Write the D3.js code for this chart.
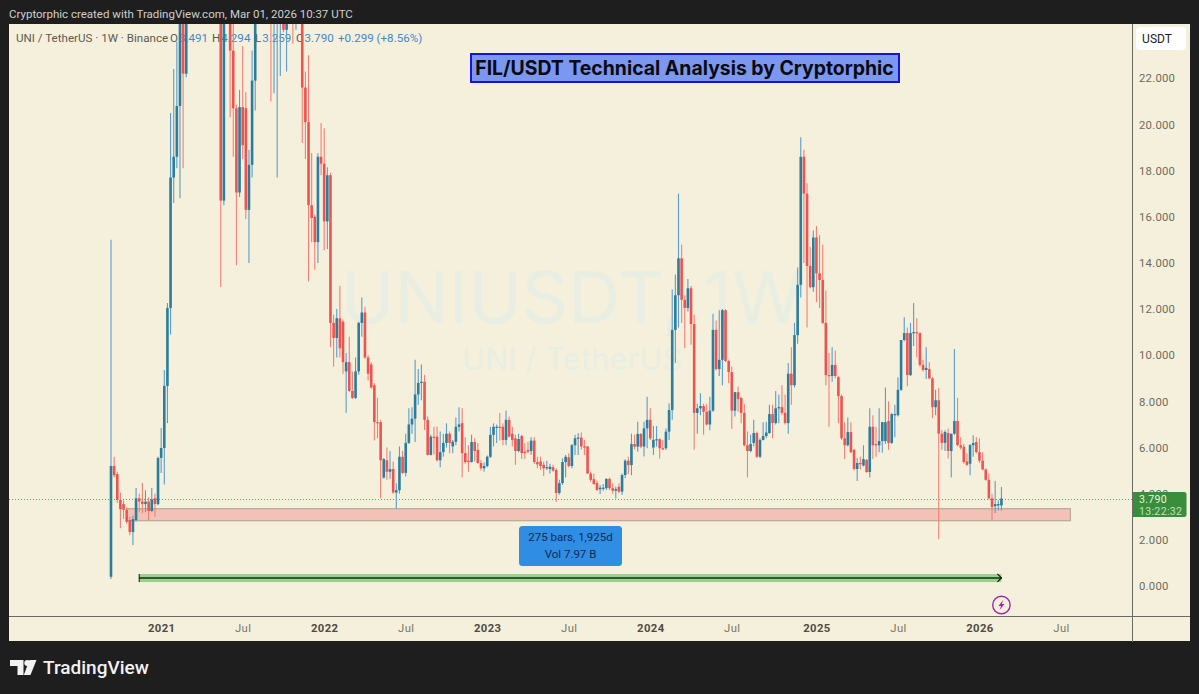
<!DOCTYPE html>
<html><head><meta charset="utf-8">
<style>html,body{margin:0;padding:0;background:#1e1e1e;overflow:hidden}svg{display:block}text{font-family:Roboto,Inter,"Noto Sans",sans-serif}</style>
<script src="https://cdn.jsdelivr.net/npm/d3@7"></script>
</head><body><div id="c"></div>
<script>
const firstWeek = "2020-09-14";
const opens = [0.4,5.2,4.85,3.73,3.55,3.3,2.86,2.34,2.86,3.8,3.66,3.55,3.66,3.25,3.8,3.55,5.55,5.98,8.67,12.05,
17.7,18.6,20.8,27,22.2,30,36,33,29,31,36,40,38,34,31,30,16.7,28,27,23.2,
20.7,17.05,20.75,20.7,16.3,18.25,21.9,26,28,27,30,29,25,27,26,28,24.1,25,26,24.5,
25,26,21.6,20.1,16.5,16,14.9,18.6,18.3,15.8,17.8,11.4,10.75,11.6,11.45,9.3,9.7,8.45,8.15,9.3,
11.4,11.85,9.9,9.6,8.7,7.1,7.1,4.7,5.45,4.95,5.07,4.05,4.15,5.6,4.9,6.2,7,7.25,8.3,8.8,
8.85,7.2,5.68,6.47,6.47,5.45,5.8,6.2,6.6,6.05,6.25,6.9,7.06,5.76,5.43,5.37,6.24,5.9,5.33,5.1,
5.2,5.6,6.55,6.9,6.9,6.9,6.33,7.2,6.6,6.4,5.85,6.5,5.82,5.9,5.85,6.3,5.37,5.4,5.25,5.12,
5.07,5.15,5.03,4.03,4.46,5.37,5.58,5.2,6.1,6.4,6.43,6.05,6.05,4.87,4.63,4.46,4.19,4.24,4.24,4.64,
4.24,4.13,4.3,4.09,4.81,5.43,5.24,6.15,6.04,6.59,6.04,6.83,7.2,6.0,6.33,6.36,5.97,5.97,6.69,7.63,
11.1,12.6,14.2,12.4,12.05,12.9,11.35,7.5,7.7,7.8,7.55,7,7.6,11.1,9.4,9.8,11.95,9.75,9.27,7.6,
8.4,8.15,7.5,6.1,5.85,6.2,6.63,5.6,6.33,6.5,6.63,7.45,7.06,7.7,7.75,7.5,7.06,9.2,8.7,10.87,
13.05,18.6,17,13.87,12.95,15.1,13.55,13.26,11.4,9.14,9.1,9.58,9.05,8.23,6.4,6.1,6.67,5.9,5.07,5.33,
5.22,5.46,4.94,6.9,6.15,6.1,6.28,6.28,7.15,6.2,7.4,7.4,8.5,10.66,10.96,9.14,10.96,11,10.96,9.58,
9.36,9.4,9,7.75,8.05,6.6,6.2,6.63,5.85,6.6,7.15,6.1,6.03,5.4,5.3,6.1,6.24,5.8,5.43,5.05,
4.6,3.8,3.46,3.49,3.491];
const closes = [5.2,4.8,3.73,3.33,3.3,2.78,2.34,2.9,3.8,3.66,3.55,3.66,3.25,3.75,3.55,5.55,5.98,8.67,12.05,17.7,
18.6,20.8,27,22.2,30,36,33,29,31,36,40,38,34,31,30,16.7,28,27,23.2,20.7,
17.05,20.75,19.1,16.3,18.25,21.9,26,28,27,30,29,25,27,29,28,24.1,25,26,25,25,
26,21.6,20.1,16.5,15.95,14.9,18.6,18.3,15.8,17.8,11.4,10.75,11.6,10.3,9.7,9.7,8.45,8.15,9.3,11.4,
11.85,9.9,9.2,8.6,7.1,7.05,5.45,5.5,4.95,5.07,4.05,4.15,5.6,4.9,6.2,7,7.25,8.3,8.8,8.85,
7.2,5.68,6.47,6.42,5.45,5.8,6.2,6.6,6.2,6.25,6.9,7.0,5.76,5.37,5.37,6.24,5.85,5.33,5.1,5.2,
5.6,6.55,6.9,6.9,6.85,6.33,7.2,6.47,6.33,5.85,6.37,5.76,5.76,5.82,6.3,5.37,5.27,5.2,5.1,5.15,
5.17,5.0,4.03,4.46,5.37,5.6,5.2,6.1,6.4,6.43,6.05,6.03,4.87,4.6,4.42,4.16,4.26,4.26,4.64,4.24,
4.13,4.2,4.09,4.81,5.43,5.24,6.15,6.04,6.59,6.04,6.83,7.2,6.4,6.33,6.36,5.97,5.95,6.69,7.63,11.1,
12.6,14.2,12.4,12.05,12.9,11.35,7.5,7.7,7.8,7.55,7,7.6,11.1,9.4,9.8,11.95,9.75,9.27,7.6,8.4,
8.1,7.5,6.1,5.85,6.15,6.63,5.6,6.33,6.5,6.65,7.45,7.06,7.7,7.75,7.5,7.06,9.2,8.7,10.87,13.05,
18.6,17,13.87,12.95,15.1,13.55,13.26,11.4,9.14,9.1,9.58,9.1,8.23,6.4,6.1,6.67,5.8,5.07,5.33,5.28,
5.5,4.94,6.9,6.1,6.1,6.28,7.1,7.1,6.2,7.45,7.45,8.5,10.66,10.96,9.14,10.96,11,10.95,9.58,9.36,
9.45,9,7.75,8.05,6.6,6.2,6.67,5.85,6.6,7.15,6.1,6,5.37,5.25,6.1,6.2,5.8,5.43,5.05,4.6,
3.8,3.42,3.55,3.55,3.79];
const highs = [15,5.6,4.95,4.05,3.7,3.4,3,3.05,4.25,4,4.46,4.15,3.85,4.25,4,5.6,6.85,9.36,12.26,20.5,
22.4,23.6,29,28,33,38,39,35,34,40,43,44,40,36,33,31,29,31,28,25,
20.85,21.5,23.4,21.4,18.9,23.2,28,30,31,32,33,31,30,31,30,29,28,29,28,27,
28,27,22.3,23,18.75,16.1,18.75,20.06,19.84,18.15,17.9,11.75,12,13,11.55,10.1,10.8,9.3,9.9,11.45,
12.5,12.1,10,9.7,8.8,8.15,7.2,5.55,6,5.85,5.4,4.45,6.05,5.85,6.6,7.7,7.75,9.8,9.4,9.6,
9.15,7.35,6.55,6.9,6.9,6.7,6.6,7.05,6.7,6.33,7.3,7.75,7.7,6.45,6.1,6.55,6.4,6.2,5.46,5.35,
5.65,6.9,7.05,7,7.5,7.05,7.6,7.35,6.9,6.55,6.6,6.55,6.2,6.25,6.45,6.45,5.6,5.6,5.4,5.43,
5.3,5.25,5.1,4.6,5.53,5.68,5.75,6.15,6.55,6.62,6.65,6.33,6.07,4.95,4.88,4.57,4.38,4.42,4.67,4.7,
4.45,4.3,4.45,4.88,5.49,5.6,6.6,6.55,7.12,6.62,7.12,8.2,7.7,6.93,6.93,6.4,6.33,6.83,7.92,12.85,
13.5,17,14.8,12.6,13.3,13,11.75,7.9,8.35,7.9,7.9,8.2,11.8,11.5,11.95,12,12,9.8,9.5,8.4,
8.65,8.2,7.9,6.7,6.55,7.2,6.7,6.4,7.1,7.12,7.85,7.85,8.45,8.3,8.7,8.3,9.66,10.35,11.4,13.8,
19.45,18.9,17.45,14.7,15.4,15.6,15.2,14.8,12.8,10.1,10.35,10.2,9.1,8.3,7.1,7.3,7.1,5.95,5.55,5.6,
6.1,5.5,7.7,7.4,6.9,7.7,7.1,8.6,8,7.5,7.85,9.05,10.66,11.65,11.2,11.4,12.26,11.6,11,9.8,
10.35,9.7,9.05,8.5,8.58,6.75,6.75,6.82,6.6,10.27,8.15,6.45,6.15,5.75,6.15,6.53,6.45,6.4,5.8,5.1,
4.88,4,4.55,3.72,4.294];
const lows = [0.3,4.7,3.6,2.5,2.9,2.7,2.2,1.78,2.8,3.2,3.15,3.2,2.86,3.2,3,3.5,4.9,4.4,7.06,10.9,
16.6,18.1,16.8,18.1,22.05,29,30,27,27,30,34,32,30,28,26,12.96,16.5,25,20.3,18.6,
13.9,16.86,18.5,15.9,14,17.7,20.6,25,25,26,26,21,21.35,17.7,22.1,24,22.3,24.6,23.5,24.1,
24.8,19.2,18.5,13.2,14.9,13.7,14,17.8,14.55,14.6,10.35,9.5,9.9,9.9,9.2,7.5,8.4,8.1,8.1,9.15,
10.8,9.85,8.9,8.55,6.3,6.4,3.8,4.65,4.6,4.65,4,3.35,4,4.85,4.75,6.15,6.6,6.24,7.85,8.05,
6.76,5.65,5.65,5.7,5.4,5.15,5.6,6,5.75,5.75,6.1,6.7,4.7,5.3,4.95,5.35,5.4,5.3,5,4.95,
5.15,5.55,6.05,6.2,6.3,6.1,6.1,6.45,6.05,5.25,5.8,5.5,5.5,5.75,5.68,5.3,5.1,5.03,4.77,5.03,
4.88,4.95,3.64,3.95,4.38,4.7,5.14,5.1,5.68,5.68,5.9,5.68,4.88,4.52,4.38,4.13,3.99,4.13,4.16,4.16,
4,3.8,4.02,3.94,4.67,4.85,4.8,5.92,5.82,5.97,5.61,5.97,6.33,5.68,6.04,5.53,5.89,5.89,6.33,7.2,
9.66,11.2,11.4,10.3,11.9,10.45,5.9,6.6,7.4,6.55,6.95,6.75,7.55,9.35,9.1,8.7,9.7,8.8,6.8,7.35,
7.55,7.05,6.05,4.7,5.8,6.05,5.55,5.55,6.3,6.4,6.6,6.4,7,7.05,7.4,7,6.6,7.85,8.6,10.5,
12.5,14,11.2,12.9,12.75,12.3,12.05,11.35,8.7,6.9,8.85,9,7.05,6.33,5.5,6.05,5.75,5,4.55,5.05,
5.18,4.9,4.7,5.5,5.6,5.8,5.77,6.15,5.9,6.15,6.45,7.35,8.45,10.6,8.66,9.1,10.4,9.9,9.5,9.3,
8.97,8.95,7.27,7.4,2.03,5.9,5.85,5.52,4.7,6.55,6.05,5.92,5.3,5.2,4.8,5.6,5.75,5.33,5.02,4.56,
3.75,2.86,3.16,3.27,3.259];
const priceTicks = [0,2,4,6,8,10,12,14,16,18,20,22];
const yearTicks = [["2021-01-04","2021"],["2022-01-03","2022"],["2023-01-02","2023"],["2024-01-01","2024"],["2025-01-06","2025"],["2026-01-05","2026"]];
const julyTicks = ["2021-07-05","2022-07-04","2023-07-03","2024-07-01","2025-07-07","2026-07-06"];
const zone = {from:"2020-10-19", to:"2026-07-27", top:3.35, bottom:2.83};
const measure = {from:"2020-11-16", to:"2026-02-23", top:0.52, mid:0.35, bottom:0.17};
const lastClose = 3.79;
const legendOHLC = [["O","3.491"],["H","4.294"],["L","3.259"],["C","3.790"]];

const W=1199,H=694, L=9,R=1190,T=24,B=641, XR=1132, XB=616;
const svg=d3.select("#c").append("svg").attr("width",W).attr("height",H);
const UP="#2a7d9c",DN="#ef5350",UPW="#5a9ccb",DNW="#f27f76",BG="#f5f0dc",INK="#6e6a5c";

const parse=d3.utcParse("%Y-%m-%d");
const x=d3.scaleUtc().domain([parse(firstWeek),parse("2026-07-06")]).range([111,1061]);
const y=d3.scaleLinear().domain([0,22]).range([586,78.3]);
const bars=closes.map((c,i)=>({date:d3.utcDay.offset(parse(firstWeek),7*i),o:opens[i],h:highs[i],l:lows[i],c}));

svg.append("rect").attr("width",W).attr("height",H).attr("fill","#1e1e1e");
svg.append("rect").attr("x",L).attr("y",T).attr("width",R-L).attr("height",B-T).attr("fill",BG);
svg.append("defs").append("clipPath").attr("id","plot").append("rect").attr("x",L).attr("y",T).attr("width",XR-L).attr("height",XB-T);

svg.append("text").attr("x",9).attr("y",18).attr("fill","#cfcfcf").attr("font-size",11.5).text("Cryptorphic created with TradingView.com, Mar 01, 2026 10:37 UTC");

// watermark
const wm=svg.append("g").attr("text-anchor","middle").attr("fill","#e8eee1");
wm.append("text").attr("x",572).attr("y",323).attr("font-size",72).style("font-family","Inter").text("UNIUSDT, 1W");
wm.append("text").attr("x",572).attr("y",370).attr("font-size",31).style("font-family","Inter").text("UNI / TetherUS");

// legend
svg.append("text").attr("x",16).attr("y",42).attr("fill","#5c5a50").attr("font-size",11.6).text("UNI / TetherUS · 1W · Binance");
const lg=[170,212,255,296];
legendOHLC.forEach((d,i)=>{
  const t=svg.append("text").attr("x",lg[i]).attr("y",42).attr("font-size",11.6);
  t.append("tspan").attr("fill","#5c5a50").text(d[0]);
  t.append("tspan").attr("fill","#3f88cc").attr("dx",1).text(d[1]);
});
svg.append("text").attr("x",338).attr("y",42).attr("font-size",11.6).attr("fill","#3f88cc").text("+0.299 (+8.56%)");

const plot=svg.append("g").attr("clip-path","url(#plot)");
// last price line
plot.append("line").attr("x1",L).attr("x2",XR).attr("y1",Math.round(y(lastClose))+.5).attr("y2",Math.round(y(lastClose))+.5)
  .attr("stroke","#4caf50").attr("stroke-width",1).attr("stroke-dasharray","1 2");
// zone
plot.append("rect").attr("x",x(parse(zone.from))).attr("y",y(zone.top)).attr("width",x(parse(zone.to))-x(parse(zone.from))).attr("height",y(zone.bottom)-y(zone.top))
  .attr("fill","#f4c1b7").attr("stroke","#b9ae97").attr("stroke-width",1.3);
// candles
const g=plot.selectAll("g.c").data(bars).join("g").attr("class","c");
g.append("line").attr("x1",d=>x(d.date)).attr("x2",d=>x(d.date)).attr("y1",d=>y(d.h)).attr("y2",d=>y(d.l))
  .attr("stroke",d=>d.c>=d.o?UPW:DNW).attr("stroke-width",1.1);
g.append("rect").attr("x",d=>x(d.date)-1.3).attr("width",2.6).attr("y",d=>y(Math.max(d.o,d.c)))
  .attr("height",d=>Math.max(1.2,Math.abs(y(d.o)-y(d.c)))).attr("fill",d=>d.c>=d.o?UP:DN);

// measure arrow
const mx0=x(parse(measure.from)),mx1=x(parse(measure.to));
plot.append("rect").attr("x",mx0).attr("y",y(measure.top)).attr("width",mx1-mx0).attr("height",y(measure.bottom)-y(measure.top)).attr("fill","#9dd08e");
plot.append("line").attr("x1",mx0).attr("x2",mx1).attr("y1",y(measure.mid)).attr("y2",y(measure.mid)).attr("stroke","#2f5c31").attr("stroke-width",2);
plot.append("line").attr("x1",mx0).attr("x2",mx0).attr("y1",y(measure.top)).attr("y2",y(measure.bottom)).attr("stroke","#111").attr("stroke-width",1);
plot.append("path").attr("d",`M${mx1-4},${y(measure.mid)-4}L${mx1},${y(measure.mid)}L${mx1-4},${y(measure.mid)+4}`).attr("fill","none").attr("stroke","#111").attr("stroke-width",1.2);

// tooltip
const tip=svg.append("g");
tip.append("rect").attr("x",519).attr("y",526).attr("width",103).attr("height",40).attr("rx",3.5).attr("fill","#2f8de4");
tip.append("text").attr("x",570.5).attr("y",541).attr("text-anchor","middle").attr("font-size",11.5).attr("fill","#0e2c52").text("275 bars, 1,925d");
tip.append("text").attr("x",570.5).attr("y",558).attr("text-anchor","middle").attr("font-size",11.5).attr("fill","#0e2c52").text("Vol 7.97 B");

// title
svg.append("rect").attr("x",471).attr("y",54).attr("width",428).attr("height",28).attr("fill","#7b97ee").attr("stroke","#1414dc").attr("stroke-width",2);
svg.append("text").attr("x",684.5).attr("y",75).attr("text-anchor","middle").attr("font-size",19.4).attr("font-weight",700).style("font-family","Inter").attr("fill","#0a0a14").text("FIL/USDT Technical Analysis by Cryptorphic");

// lightning icon
const ic=svg.append("g").attr("transform",`translate(${mx1},605)`);
ic.append("circle").attr("r",8.7).attr("fill",BG).attr("stroke","#9c27b0").attr("stroke-width",1.4);
ic.append("path").attr("d","M1.8,-5L-3,1H-0.4L-1.8,5L3,-1H0.4Z").attr("fill","#9c27b0");

// axes frames
svg.append("line").attr("x1",XR+.5).attr("x2",XR+.5).attr("y1",T).attr("y2",B+1).attr("stroke","#6a6a66").attr("stroke-width",1);
svg.append("line").attr("x1",L).attr("x2",R).attr("y1",XB+.5).attr("y2",XB+.5).attr("stroke","#6a6a66").attr("stroke-width",1);

// y axis
const ya=d3.axisRight(y).tickValues(priceTicks).tickFormat(d3.format(".3f")).tickSize(0).tickPadding(0);
const yg=svg.append("g").attr("transform",`translate(1139,0)`).call(ya);
yg.select(".domain").remove();
yg.selectAll("text").attr("font-size",11.3).attr("fill",INK).attr("font-family","Roboto,sans-serif").style("letter-spacing","0.25px");

// x axis
const xa=d3.axisBottom(x).tickValues(yearTicks.map(d=>parse(d[0])).concat(julyTicks.map(parse)))
  .tickFormat(d=>{const m=yearTicks.find(t=>+parse(t[0])===+d);return m?m[1]:"Jul";}).tickSize(0).tickPadding(0);
const xg=svg.append("g").attr("transform",`translate(0,${XB+8})`).call(xa);
xg.select(".domain").remove();
xg.selectAll("text").attr("font-size",11.3).attr("font-family","Roboto,sans-serif").style("letter-spacing","0.4px")
  .attr("fill",d=>yearTicks.some(t=>+parse(t[0])===+d)?"#4e4c44":"#7a7668")
  .attr("font-weight",d=>yearTicks.some(t=>+parse(t[0])===+d)?700:400);

// price tag
svg.append("path").attr("d","M1133,492H1184a2.5,2.5 0 0 1 2.5,2.5V514.5a2.5,2.5 0 0 1 -2.5,2.5H1133Z").attr("fill","#388e3c");
svg.append("text").attr("x",1139).attr("y",503).attr("font-size",10.6).attr("fill","#e9f3d8").style("letter-spacing","0.3px").text(d3.format(".3f")(lastClose));
svg.append("text").attr("x",1139).attr("y",515).attr("font-size",10.6).attr("fill","#bfe2b4").style("letter-spacing","0.3px").text("13:22:32");

// USDT
svg.append("rect").attr("x",1136).attr("y",27).attr("width",50).attr("height",23).attr("rx",4).attr("fill","#fff");
svg.append("text").attr("x",1157).attr("y",42.5).attr("text-anchor","middle").attr("font-size",12).attr("fill","#222").text("USDT");

// TradingView brand
const br=svg.append("g").attr("fill","#f2f2f2");
br.append("path").attr("d","M10,660H23.5V675H17.5V666H10Z");
br.append("circle").attr("cx",27.3).attr("cy",663).attr("r",3);
br.append("path").attr("d","M29.5,660H36.5L30.5,675H23.8Z");
br.append("text").attr("x",43).attr("y",674).attr("font-size",19).attr("font-weight",500).text("TradingView");
</script></body></html>
